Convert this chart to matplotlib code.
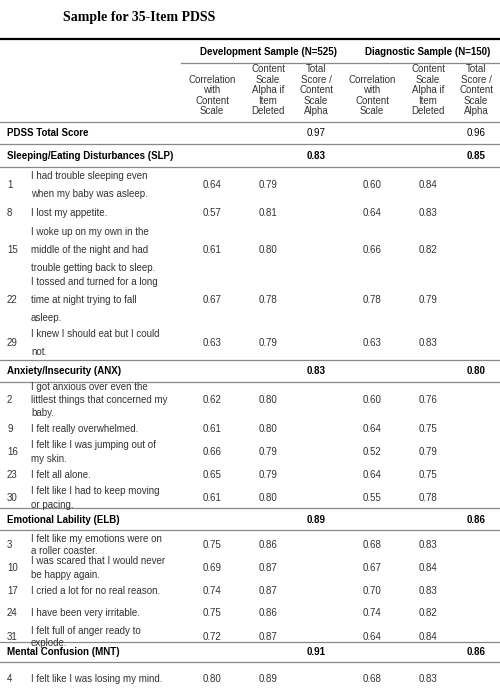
import matplotlib.pyplot as plt

# item rows: (number, text lines, dev corr, dev alpha-if-deleted, diag corr, diag alpha-if-deleted, y, line gap)
scales = ['PDSS Total Score', 'Sleeping/Eating Disturbances (SLP)', 'Anxiety/Insecurity (ANX)',
          'Emotional Lability (ELB)', 'Mental Confusion (MNT)']
scale_dev = ['0.97', '0.83', '0.83', '0.89', '0.91']
scale_diag = ['0.96', '0.85', '0.80', '0.86', '0.86']
scale_y = [133, 156, 371, 520, 652]
scale_bold = [True, True, True, True, True]

item_num = ['1', '8', '15', '22', '29', '2', '9', '16', '23', '30', '3', '10', '17', '24', '31', '4']
item_text = [
    ['I had trouble sleeping even', 'when my baby was asleep.'],
    ['I lost my appetite.'],
    ['I woke up on my own in the', 'middle of the night and had', 'trouble getting back to sleep.'],
    ['I tossed and turned for a long', 'time at night trying to fall', 'asleep.'],
    ['I knew I should eat but I could', 'not.'],
    ['I got anxious over even the', 'littlest things that concerned my', 'baby.'],
    ['I felt really overwhelmed.'],
    ['I felt like I was jumping out of', 'my skin.'],
    ['I felt all alone.'],
    ['I felt like I had to keep moving', 'or pacing.'],
    ['I felt like my emotions were on', 'a roller coaster.'],
    ['I was scared that I would never', 'be happy again.'],
    ['I cried a lot for no real reason.'],
    ['I have been very irritable.'],
    ['I felt full of anger ready to', 'explode.'],
    ['I felt like I was losing my mind.'],
]
dev_corr = ['0.64', '0.57', '0.61', '0.67', '0.63', '0.62', '0.61', '0.66', '0.65', '0.61',
            '0.75', '0.69', '0.74', '0.75', '0.72', '0.80']
dev_alpha = ['0.79', '0.81', '0.80', '0.78', '0.79', '0.80', '0.80', '0.79', '0.79', '0.80',
             '0.86', '0.87', '0.87', '0.86', '0.87', '0.89']
diag_corr = ['0.60', '0.64', '0.66', '0.78', '0.63', '0.60', '0.64', '0.52', '0.64', '0.55',
             '0.68', '0.67', '0.70', '0.74', '0.64', '0.68']
diag_alpha = ['0.84', '0.83', '0.82', '0.79', '0.83', '0.76', '0.75', '0.79', '0.75', '0.78',
              '0.83', '0.84', '0.83', '0.82', '0.84', '0.83']
item_y = [185, 213, 250, 300, 343, 400, 429, 452, 475, 498, 545, 568, 591, 613, 637, 679]
item_gap = [18, 18, 18, 18, 18, 13, 13, 13, 13, 13, 13, 13, 13, 13, 13, 13]

col_x = [212, 268, 316, 372, 428, 476]
sub_headers = ['Correlation\nwith\nContent\nScale', 'Content\nScale\nAlpha if\nItem\nDeleted',
               'Total\nScore /\nContent\nScale\nAlpha']

plt.rcParams['font.family'] = ['Liberation Sans', 'DejaVu Sans']
fig = plt.figure(figsize=(5, 6.89), dpi=100)
ax = fig.add_axes([0, 0, 1, 1])
ax.set_xlim(0, 500)
ax.set_ylim(689, 0)
ax.axis('off')

fs = 7
gray = '#888888'

ax.text(63, 17, 'Sample for 35-Item PDSS', fontsize=10, fontweight='bold',
        family='Liberation Serif', va='center')
ax.plot([0, 500], [39, 39], color='black', lw=1.6)

ax.text(268, 52, 'Development Sample (N=525)', fontsize=fs, fontweight='bold', ha='center', va='center')
ax.text(428, 52, 'Diagnostic Sample (N=150)', fontsize=fs, fontweight='bold', ha='center', va='center')
ax.plot([181, 500], [63, 63], color=gray, lw=0.9)

for g in range(2):
    for k, h in enumerate(sub_headers):
        n = h.count('\n') + 1
        ax.text(col_x[g * 3 + k], 116 - (n - 1) * 11.5 / 2 if False else 116, h, fontsize=fs,
                ha='center', va='bottom', color='#333333', linespacing=1.05)

for yl in [122, 144, 167, 360, 382, 508, 530, 642, 662]:
    ax.plot([0, 500], [yl, yl], color=gray, lw=0.9)

for name, dv, dg, y, b in zip(scales, scale_dev, scale_diag, scale_y, scale_bold):
    ax.text(7, y, name, fontsize=fs, fontweight='bold', va='center')
    w = 'bold' if name != 'PDSS Total Score' else 'normal'
    ax.text(col_x[2], y, dv, fontsize=fs, fontweight=w, ha='center', va='center')
    ax.text(col_x[5], y, dg, fontsize=fs, fontweight=w, ha='center', va='center')

for i in range(len(item_num)):
    y = item_y[i]
    lines = item_text[i]
    ax.text(7, y, item_num[i], fontsize=fs, va='center', color='#333333')
    top = y - (len(lines) - 1) * item_gap[i] / 2
    for j, t in enumerate(lines):
        ax.text(31, top + j * item_gap[i], t, fontsize=fs, va='center', color='#333333')
    for x, v in zip([col_x[0], col_x[1], col_x[3], col_x[4]],
                    [dev_corr[i], dev_alpha[i], diag_corr[i], diag_alpha[i]]):
        ax.text(x, y, v, fontsize=fs, ha='center', va='center', color='#333333')

fig.savefig('out.png', dpi=100)
